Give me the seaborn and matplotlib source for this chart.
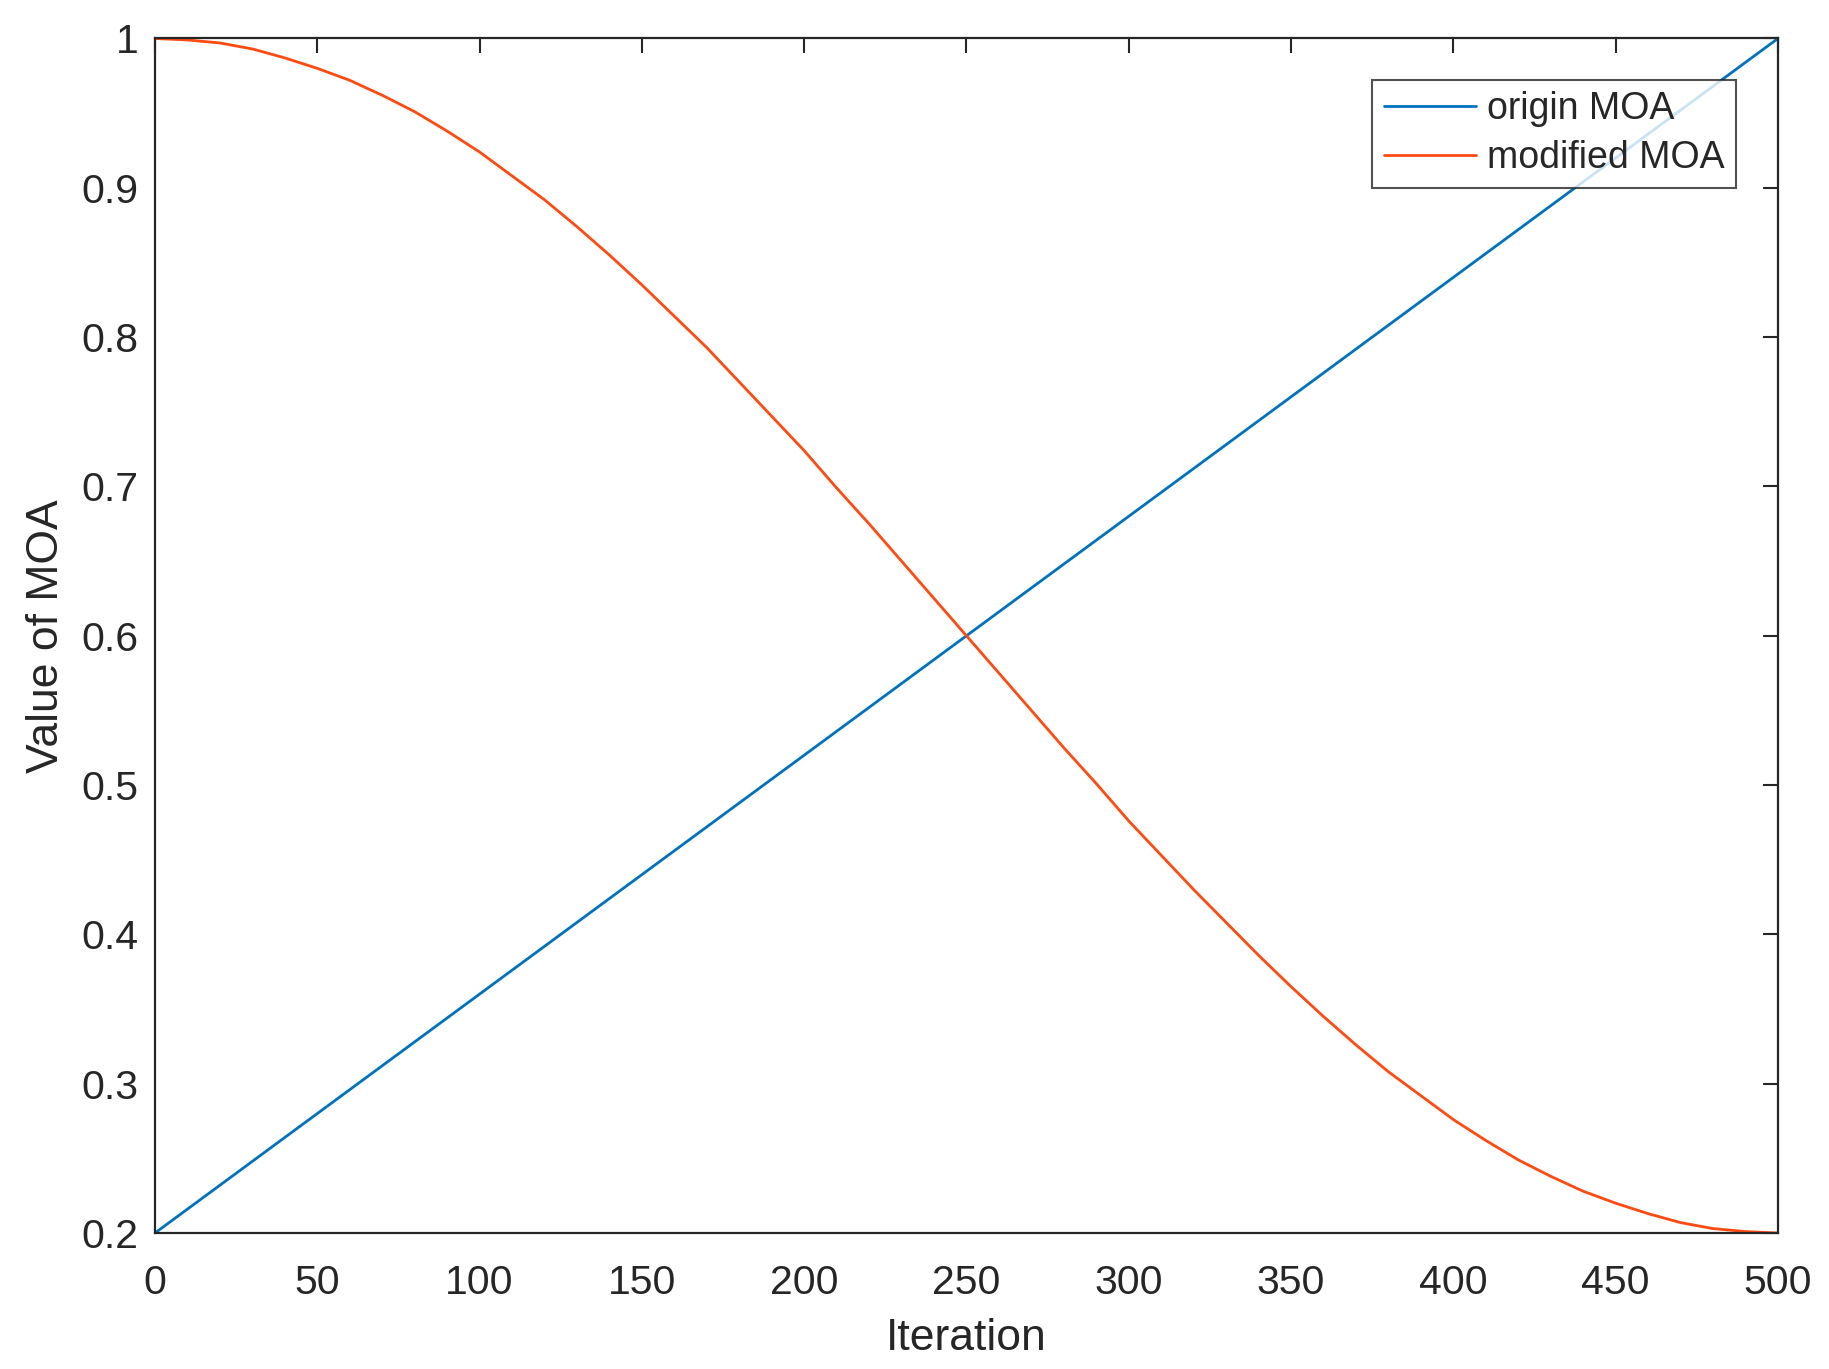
#import libraries
import pandas as pd
import seaborn as sns
import matplotlib.pyplot as plt

#values (every 10 iterations)
iteration = [0, 10, 20, 30, 40, 50, 60, 70, 80, 90,
             100, 110, 120, 130, 140, 150, 160, 170, 180, 190,
             200, 210, 220, 230, 240, 250, 260, 270, 280, 290,
             300, 310, 320, 330, 340, 350, 360, 370, 380, 390,
             400, 410, 420, 430, 440, 450, 460, 470, 480, 490, 500]
origin_moa = [0.200, 0.216, 0.232, 0.248, 0.264, 0.280, 0.296, 0.312, 0.328, 0.344,
              0.360, 0.376, 0.392, 0.408, 0.424, 0.440, 0.456, 0.472, 0.488, 0.504,
              0.520, 0.536, 0.552, 0.568, 0.584, 0.600, 0.616, 0.632, 0.648, 0.664,
              0.680, 0.696, 0.712, 0.728, 0.744, 0.760, 0.776, 0.792, 0.808, 0.824,
              0.840, 0.856, 0.872, 0.888, 0.904, 0.920, 0.936, 0.952, 0.968, 0.984, 1.000]
modified_moa = [1.000, 0.999, 0.997, 0.993, 0.987, 0.980, 0.972, 0.962, 0.951, 0.938,
                0.924, 0.908, 0.892, 0.874, 0.855, 0.835, 0.814, 0.793, 0.770, 0.747,
                0.724, 0.699, 0.675, 0.650, 0.625, 0.600, 0.575, 0.550, 0.525, 0.501,
                0.476, 0.453, 0.430, 0.408, 0.386, 0.365, 0.345, 0.326, 0.308, 0.292,
                0.276, 0.262, 0.249, 0.238, 0.228, 0.220, 0.213, 0.207, 0.203, 0.201, 0.200]
series_names = ['origin MOA', 'modified MOA']
x_ticks = [0, 50, 100, 150, 200, 250, 300, 350, 400, 450, 500]
y_ticks = [0.2, 0.3, 0.4, 0.5, 0.6, 0.7, 0.8, 0.9, 1.0]
y_tick_labels = ['0.2', '0.3', '0.4', '0.5', '0.6', '0.7', '0.8', '0.9', '1']

#long-form table for seaborn
df = pd.DataFrame({
    'Iteration': iteration * 2,
    'MOA': origin_moa + modified_moa,
    'series': [series_names[0]] * len(iteration) + [series_names[1]] * len(iteration),
})

sns.set_style('white')
plt.rcParams['font.family'] = ['Liberation Sans', 'DejaVu Sans']

fig = plt.figure(figsize=(18.29, 13.69), dpi=100)
ax = fig.add_axes([0.0847, 0.0993, 0.8874, 0.8726])

sns.lineplot(data=df, x='Iteration', y='MOA', hue='series', hue_order=series_names,
             palette=['#0072BD', '#FF4A12'], linewidth=2.0, ax=ax)

ax.set_xlim(0, 500)
ax.set_ylim(0.2, 1.0)
ax.set_xticks(x_ticks)
ax.set_xticklabels([str(t) for t in x_ticks])
ax.set_yticks(y_ticks)
ax.set_yticklabels(y_tick_labels)
ax.tick_params(direction='in', length=11, width=1.5, top=True, right=True,
               labelsize=29.5, colors='#262626')
ax.tick_params(axis='x', pad=22)
ax.tick_params(axis='y', pad=12)
for s in ax.spines.values():
    s.set_linewidth(1.6)
    s.set_color('#262626')

ax.set_xlabel('Iteration', fontsize=32, color='#262626', labelpad=12)
ax.set_ylabel('Value of MOA', fontsize=32, color='#262626', labelpad=10)

leg = ax.legend(loc='upper right', bbox_to_anchor=(0.9855, 0.981), fontsize=27,
                frameon=True, fancybox=False, handlelength=2.45, borderpad=0.3,
                labelspacing=0.35, handletextpad=0.3)
leg.get_frame().set_edgecolor('#262626')
leg.get_frame().set_linewidth(1.5)
for line in leg.get_lines():
    line.set_linewidth(2.0)

fig.savefig('out.png', dpi=100)
